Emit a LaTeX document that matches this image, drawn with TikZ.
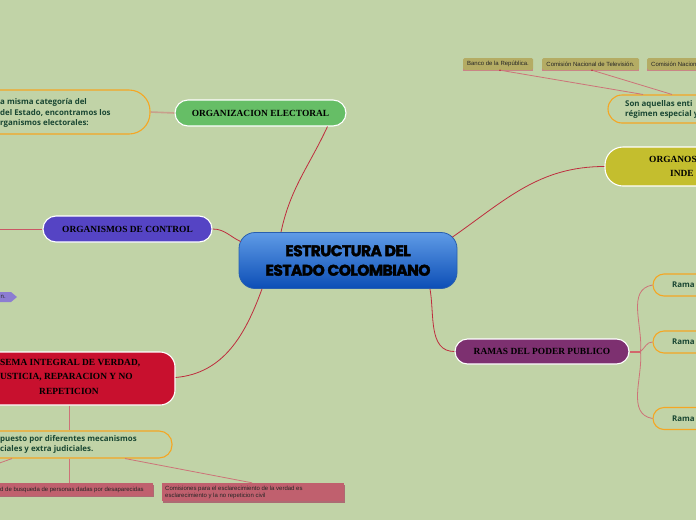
\documentclass[tikz,border=0pt]{standalone}
\usepackage{fontspec}
\usetikzlibrary{calc}
\newfontfamily\titlefont{Liberation Serif}
\newfontfamily\bubblefont{Open Sans}
\newfontfamily\centralfont{Poppins}[LetterSpace=-3.5, BoldFeatures={FakeBold=2.4}]
\newfontfamily\smallfont{Liberation Sans}
\definecolor{bg}{RGB}{193,211,167}
\definecolor{conred}{RGB}{190,45,62}
\definecolor{conpink}{RGB}{205,115,120}
\definecolor{contan}{RGB}{200,160,140}
\definecolor{borange}{RGB}{245,166,35}
\definecolor{btext}{RGB}{25,70,50}
\definecolor{cgreen}{RGB}{102,190,102}
\definecolor{cviolet}{RGB}{85,68,196}
\definecolor{ccrimson}{RGB}{200,16,46}
\definecolor{cplum}{RGB}{125,48,112}
\definecolor{colive}{RGB}{196,190,46}
\definecolor{ckhaki}{RGB}{180,172,100}
\definecolor{crose}{RGB}{192,96,110}
\definecolor{ctag}{RGB}{140,125,210}
\definecolor{blueT}{RGB}{95,155,230}
\definecolor{blueB}{RGB}{12,78,182}
\definecolor{blueL}{RGB}{40,95,175}
\tikzset{
  topic/.style={draw=white, line width=1.1pt, inner sep=0pt, font=\titlefont\bfseries\fontsize{9.4}{10}\selectfont, text=black},
  ttxt/.style={inner sep=0pt, font=\titlefont\bfseries\fontsize{9.4}{10}\selectfont, text=black},
  bubble/.style={draw=borange, line width=1.1pt, inner sep=0pt},
  btxt/.style={inner sep=0pt, font=\bubblefont\bfseries\fontsize{7.9}{10.8}\selectfont, text=btext, align=left},
  tiny/.style={inner sep=0pt, font=\smallfont\fontsize{6}{6.6}\selectfont, text=black!85, align=left},
  mainline/.style={draw=conred, line width=0.8pt},
  subline/.style={draw=conpink, line width=0.8pt},
}
\begin{document}
\begin{tikzpicture}[x=1pt,y=-1pt]
\useasboundingbox (0,0) rectangle (696,520);
\fill[bg] (0,0) rectangle (696,520);
\clip (0,0) rectangle (696,520);

% ---------- nodes ----------
\node[draw=blueL, line width=0.8pt, rounded corners=16pt, top color=blueT, bottom color=blueB,
      minimum width=218pt, minimum height=56pt, inner sep=0pt, align=center,
      font=\centralfont\bfseries\fontsize{15.5}{19.5}\selectfont, text=black] (central) at (348,260.5)
      {ESTRUCTURA DEL\\ESTADO COLOMBIANO};

\node[topic, fill=cgreen, rounded corners=13pt, minimum width=171pt, minimum height=26pt] (orgelec) at (260.5,113) {ORGANIZACION ELECTORAL};
\node[topic, fill=cviolet, rounded corners=13pt, minimum width=169pt, minimum height=26pt] (control) at (127.5,229) {ORGANISMOS DE CONTROL};
\node[topic, fill=cplum, rounded corners=12.5pt, minimum width=174pt, minimum height=25pt] (ramas) at (542,351.5) {RAMAS DEL PODER PUBLICO};
\node[topic, fill=ccrimson, rounded corners=15pt, minimum width=215pt, minimum height=53pt] (sistema) at (67.5,378.5) {};
\node[ttxt, anchor=west] (sis1) at (0,363) {SEMA INTEGRAL DE VERDAD,};
\node[ttxt, anchor=west] (sis2) at (0,377.5) {USTICIA, REPARACION Y NO};
\node[ttxt] (sis3) at (69,391.5) {REPETICION};
\node[topic, fill=colive, rounded corners=18pt, minimum width=195pt, minimum height=39pt] (organos) at (702.5,166.5) {};
\node[ttxt, anchor=west] (org1) at (649,159.5) {ORGANOS};
\node[ttxt, anchor=west] (org2) at (670,173) {INDE};

% bubbles
\node[bubble, rounded corners=21pt, minimum width=210pt, minimum height=44pt] (b1) at (45,112) {};
\node[btxt, anchor=west] (b1t) at (0,113) {a misma categoría del\\del Estado, encontramos los\\rganismos electorales:};
\node[bubble, rounded corners=13pt, minimum width=232pt, minimum height=27pt] (b2) at (56,444.5) {};
\node[btxt, anchor=west] (b2t) at (0,444.5) {puesto por diferentes mecanismos\\ciales y extra judiciales.};
\node[bubble, rounded corners=14pt, minimum width=152pt, minimum height=28pt] (b3) at (684,109) {};
\node[btxt, anchor=west] (b3t) at (625,109.5) {Son aquellas enti\\régimen especial y};
\foreach \i/\y in {1/285, 2/342, 3/418.5}{
  \node[bubble, rounded corners=11pt, minimum width=107pt, minimum height=22pt] (r\i) at (706.5,\y) {};
  \node[btxt, anchor=west] (r\i t) at (672,\y) {Rama};
}

% tag
\fill[ctag] (0,292) -- (11,292) -- (17,297) -- (11,302) -- (0,302) -- cycle;
\node[tiny, anchor=west] (tag) at (0.5,297) {n.};

% small boxes
\fill[crose!70!gray] (-60,485) rectangle (154,497);
\node[fill=crose, minimum width=213pt, minimum height=13pt, inner sep=0pt] (pk1) at (46.5,489.5) {};
\node[tiny, anchor=west] (pk1t) at (0,489.8) {d de busqueda de personas dadas por desaparecidas};
\fill[crose!70!gray] (163,485) rectangle (345,502.5);
\node[fill=crose, minimum width=182pt, minimum height=18pt, inner sep=0pt] (pk2) at (253,492) {};
\node[tiny, anchor=west] (pk2t) at (165,492.5) {Comisiones para el esclarecimiento de la verdad es\\esclarecimiento y la no repeticion civil};

\foreach \n/\cx/\w/\t in {k1/498/70/{Banco de la República.}, k2/590.5/97/{Comisión Nacional de Televisión.}, k3/703.5/113/{}}{
  \fill[crose!80] (\cx-\w/2,60) rectangle (\cx+\w/2,70.8);
  \node[fill=ckhaki, rounded corners=1.5pt, minimum width=\w pt, minimum height=12pt, inner sep=0pt, tiny] (\n) at (\cx,64) {\t};
}
\node[tiny, anchor=west] (k3t) at (651,64) {Comisión Nacional};

% ---------- connectors ----------
\coordinate (ctop) at ($(central.north)+(-67,0)$);
\coordinate (cleft) at ($(central.west)+(2,-19)$);
\coordinate (ctr) at ($(central.north east)+(-5,5)$);
\coordinate (cbr) at ($(central.south)+(82,0)$);
\coordinate (cbl) at ($(central.south)+(-86,0)$);
\draw[mainline] (ctop) to[out=78,in=245] ($(orgelec.south)+(67,0)$);
\draw[mainline] (cleft) to[out=155,in=0] (control.east);
\draw[mainline] (ctr) to[out=35,in=180] (organos.west);
\draw[mainline] (cbr) to[out=-80,in=180] (ramas.west);
\draw[mainline] (cbl) to[out=-110,in=5] ($(sistema.east)+(0,-1)$);

\coordinate (ctlL) at (-10,229);
\draw[subline, draw=conred!80] (ctlL) -- (control.west);
\draw[draw=contan, line width=1.6pt] (b1.east) -- (orgelec.west);

\coordinate (rj) at ($(ramas.east)+(11,0)$);
\draw[draw=conpink!90!red, line width=2pt] (ramas.east) -- (rj);
\draw[subline] (rj) to[out=85,in=190] (r1.west);
\draw[subline] (rj) to[out=40,in=180] (r2.west);
\draw[subline] (rj) to[out=-85,in=170] (r3.west);

\draw[subline] ($(sistema.south)+(1.5,0)$) -- ($(b2.north)+(13,0)$);
\draw[subline] ($(b2.south)+(13,0)$) -- ($(pk1.north)+(22.5,0)$);
\draw[subline] ($(b2.south)+(69,0)$) -- ($(pk2.north)+(-1,0)$);
\coordinate (b2ll) at (-20,470);
\draw[subline] ($(b2.south)+(-44,0)$) -- (b2ll);

\draw[subline] ($(k1.south)+(2,0)$) -- ($(b3.north)+(-41,0)$);
\draw[subline] ($(k2.south)+(1.5,0)$) -- ($(b3.north)+(-12,0)$);
\fill[conred] ($(k1.south)+(2,0)$) circle (0.9);
\fill[conred] ($(k2.south)+(1.5,0)$) circle (0.9);
\end{tikzpicture}
\end{document}
